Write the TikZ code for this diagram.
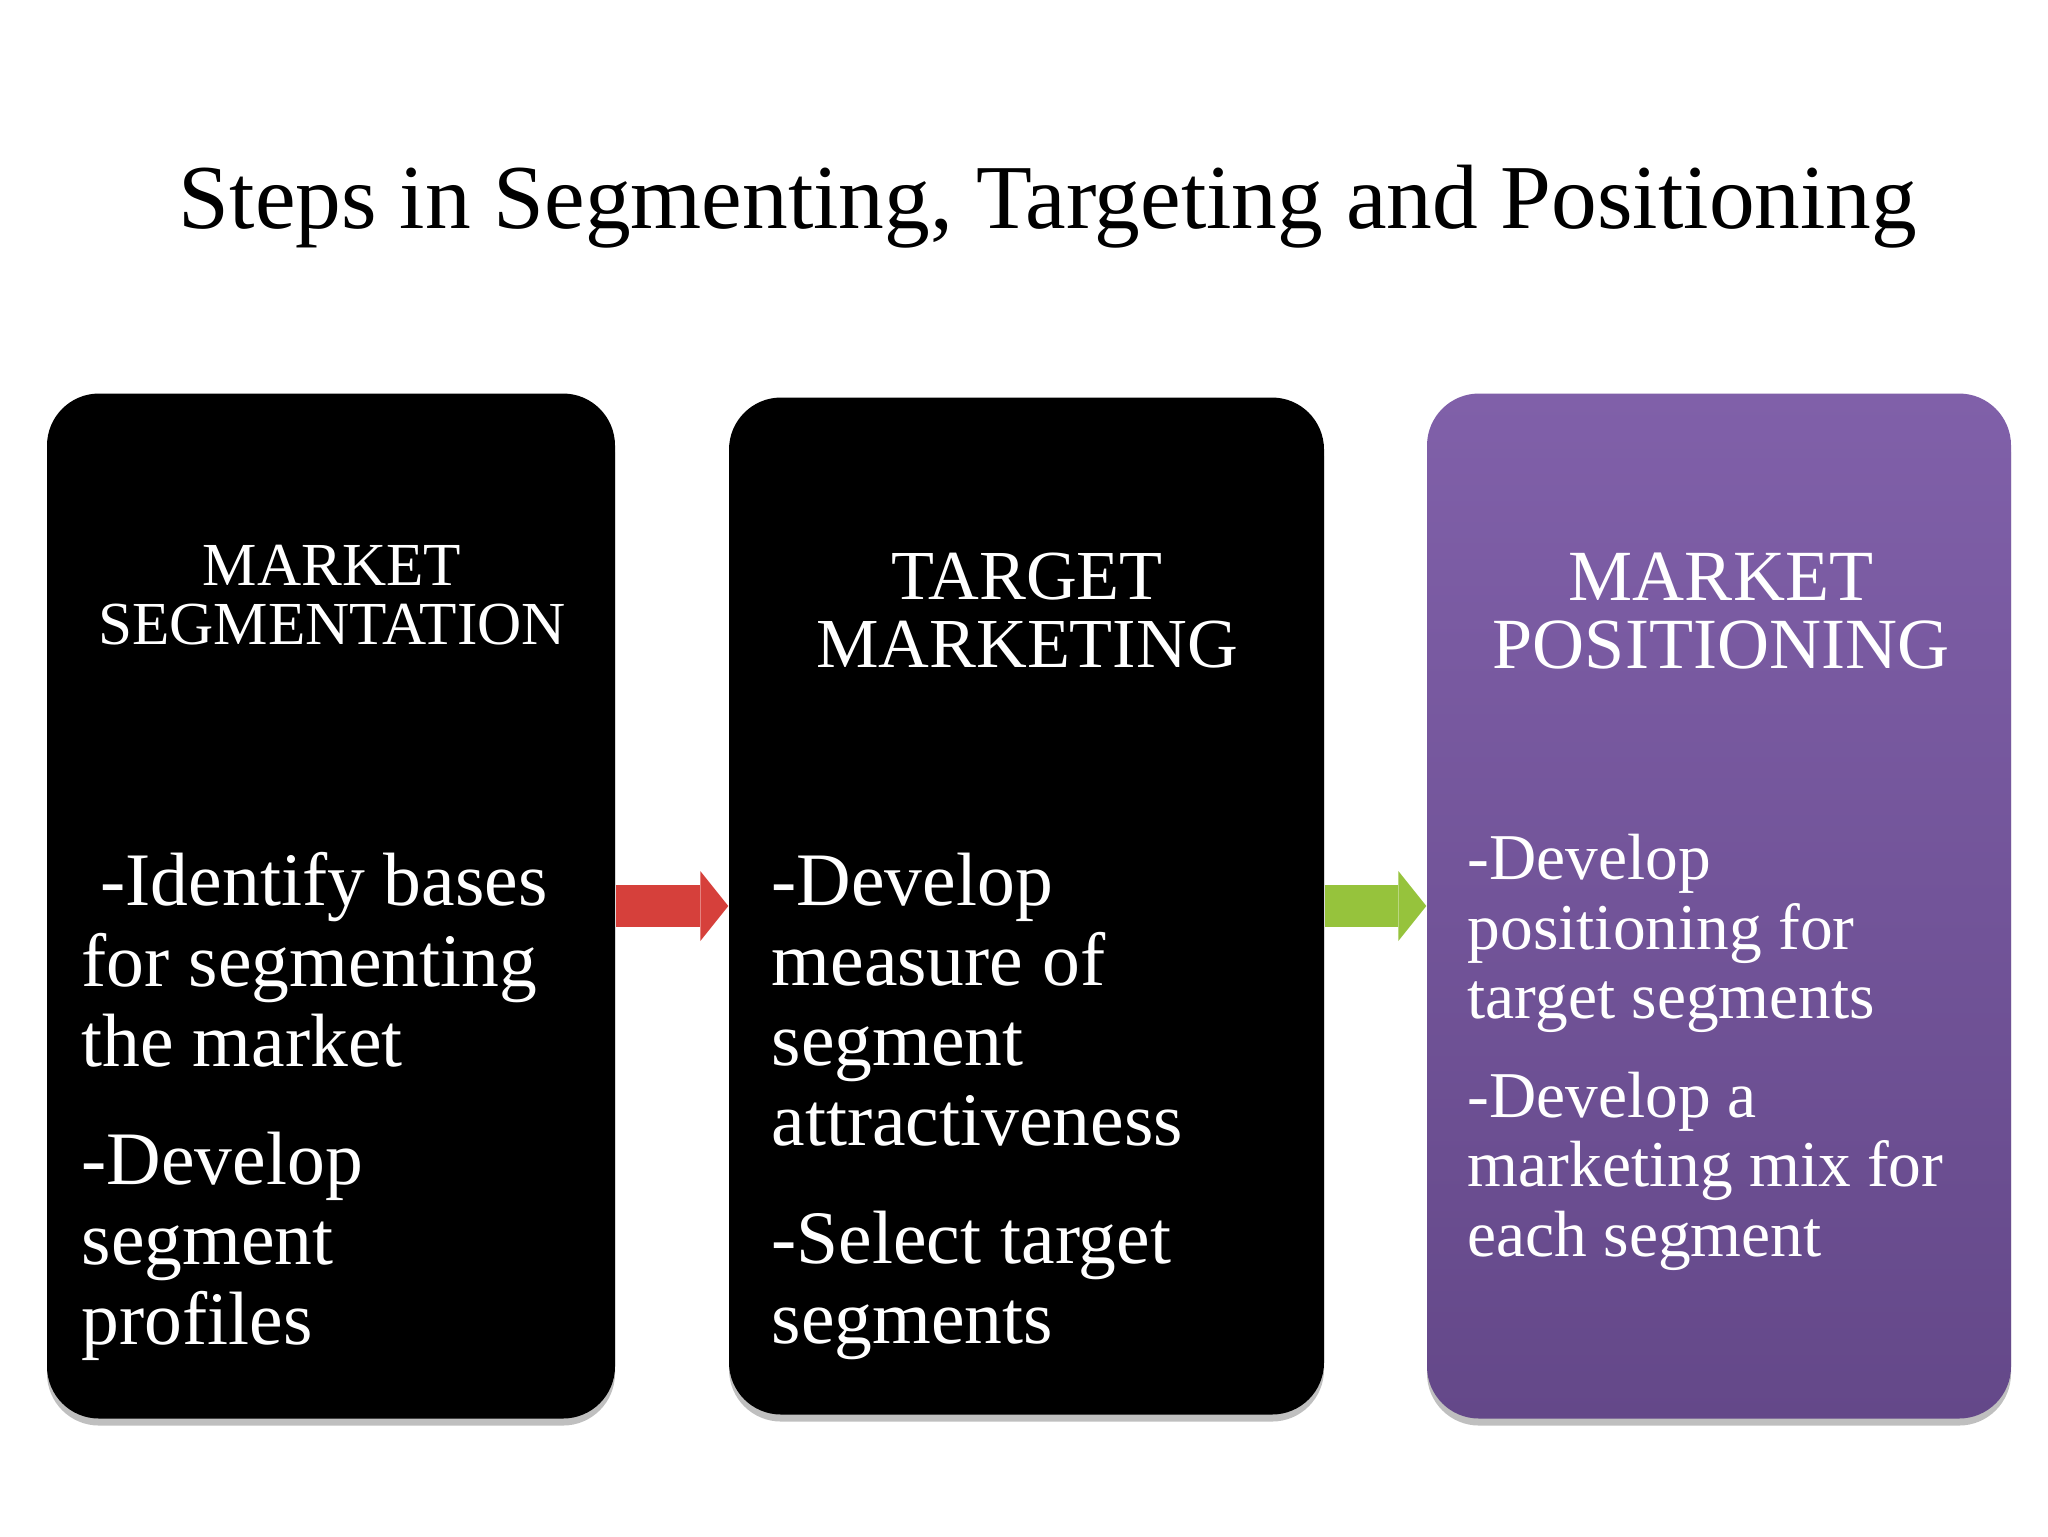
\documentclass[tikz,border=0pt]{standalone}
\usepackage{fontspec}
\setmainfont{Liberation Serif}
\usetikzlibrary{arrows.meta,shadows}
\definecolor{violett}{HTML}{8060A9}
\definecolor{violettdunkel}{HTML}{644889}
\definecolor{pfeilrot}{HTML}{D6403B}
\definecolor{pfeilgruen}{HTML}{96C33C}
\def\hoehe{102.5mm}
\tikzset{
	box/.style={rounded corners=5.2mm, minimum width=#1, minimum height=\hoehe, inner sep=0pt,
		drop shadow={shadow xshift=0pt, shadow yshift=-2pt, opacity=0.25, fill=black}},
	kopf/.style={text=white, align=center, inner sep=0pt, anchor=north},
	rumpf/.style={text=white, align=left, inner sep=0pt, anchor=north west},
	pfeil/.style={draw=#1, line width=4.2mm,
		-{Triangle[length=2.8mm, width=7mm, line width=0pt, fill=#1]}}
}

\begin{document}
\begin{tikzpicture}[x=0.1mm,y=-0.1mm]
\useasboundingbox (0,0) rectangle (2048,1536);
\fill[white] (0,0) rectangle (2048,1536);
\node[anchor=base, font=\fontsize{26}{31}\selectfont] (titel) at (1048,228)
	{Steps in Segmenting, Targeting and Positioning};

\node[box=56.8mm, fill=black] (seg) at (331,906) {};
\node[box=59.5mm, fill=black, minimum height=101.7mm] (tgt) at (1026.5,906) {};
\node[box=58.4mm, top color=violett, bottom color=violettdunkel] (pos) at (1719,906) {};

\draw[pfeil=pfeilrot] (seg.east) -- (tgt.west);
\draw[pfeil=pfeilgruen] (tgt.east) -- (pos.west);

\node[kopf, font=\fontsize{17.4}{16.8}\selectfont] (segkopf) at (332,544) {MARKET\\SEGMENTATION};
\node[kopf, font=\fontsize{20}{19.3}\selectfont] (tgtkopf) at (1027,552) {TARGET\\MARKETING};
\node[kopf, font=\fontsize{20.5}{19.3}\selectfont] (poskopf) at (1721,552) {MARKET\\POSITIONING};

\node[rumpf, font=\fontsize{21.5}{22.8}\selectfont] (segtext) at (81,852)
	{\ -Identify bases\\for segmenting\\the market\\[10.8pt]-Develop\\segment\\profiles};
\node[rumpf, font=\fontsize{21.5}{22.8}\selectfont] (tgttext) at (771,852)
	{-Develop\\measure of\\segment\\attractiveness\\[10.8pt]-Select target\\segments};
\node[rumpf, font=\fontsize{18.6}{19.9}\selectfont] (postext) at (1467,833)
	{-Develop\\positioning for\\target segments\\[8pt]-Develop a\\marketing mix for\\each segment};
\end{tikzpicture}
\end{document}
